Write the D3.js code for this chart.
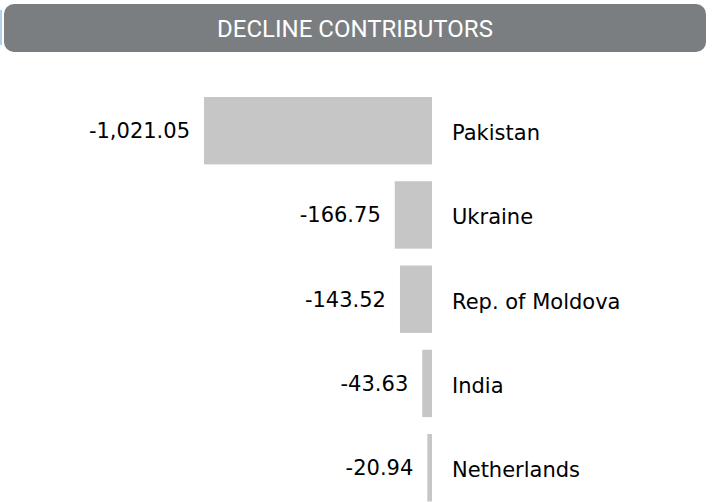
<!DOCTYPE html>
<html>
<head>
<meta charset="utf-8">
<script src="https://cdn.jsdelivr.net/npm/d3@7"></script>
<style>
  html, body { margin: 0; padding: 0; background: #fff; }
  svg { display: block; }
</style>
</head>
<body>
<svg id="chart" width="712" height="502"></svg>
<script>
// Countries contributing most to the decline, with their change values
const countries = ["Pakistan", "Ukraine", "Rep. of Moldova", "India", "Netherlands"];
const changes = [-1021.05, -166.75, -143.52, -43.63, -20.94];
const title = "DECLINE CONTRIBUTORS";

const svg = d3.select("#chart");

// small accent strip at the left edge
svg.append("rect")
  .attr("x", 0).attr("y", 10).attr("width", 2).attr("height", 35)
  .attr("fill", "#b3d3ec");

// header banner
svg.append("rect")
  .attr("x", 4).attr("y", 4).attr("width", 702).attr("height", 48)
  .attr("rx", 10).attr("ry", 10)
  .attr("fill", "#7b7e80");

svg.append("text")
  .attr("x", 355).attr("y", 37)
  .attr("text-anchor", "middle")
  .attr("font-family", "Roboto, sans-serif")
  .attr("font-size", 24)
  .attr("fill", "#ffffff")
  .text(title);

const zeroX = 432;
const x = d3.scaleLinear()
  .domain([d3.min(changes), 0])
  .range([204, zeroX]);

const y = d3.scaleBand()
  .domain(countries)
  .range([97, 501.4])
  .paddingInner(0.2)
  .paddingOuter(0);

const rows = countries.map((c, i) => ({ country: c, value: changes[i] }));
const fmt = d3.format(",.2f");

const g = svg.append("g");

g.selectAll("rect.bar")
  .data(rows)
  .join("rect")
  .attr("class", "bar")
  .attr("x", d => x(d.value))
  .attr("y", d => y(d.country))
  .attr("width", d => x(0) - x(d.value))
  .attr("height", y.bandwidth())
  .attr("fill", "#c6c6c6");

g.selectAll("text.value")
  .data(rows)
  .join("text")
  .attr("class", "value")
  .attr("x", d => x(d.value) - 14)
  .attr("y", d => y(d.country) + y.bandwidth() / 2 + 7.5)
  .attr("text-anchor", "end")
  .attr("font-family", "'DejaVu Sans', sans-serif")
  .attr("font-size", 21)
  .attr("fill", "#000")
  .text(d => fmt(d.value).replace("−", "-"));

g.selectAll("text.country")
  .data(rows)
  .join("text")
  .attr("class", "country")
  .attr("x", x(0) + 20)
  .attr("y", d => y(d.country) + y.bandwidth() / 2 + 9.5)
  .attr("text-anchor", "start")
  .attr("font-family", "'DejaVu Sans', sans-serif")
  .attr("font-size", 21)
  .attr("fill", "#000")
  .text(d => d.country);
</script>
</body>
</html>
